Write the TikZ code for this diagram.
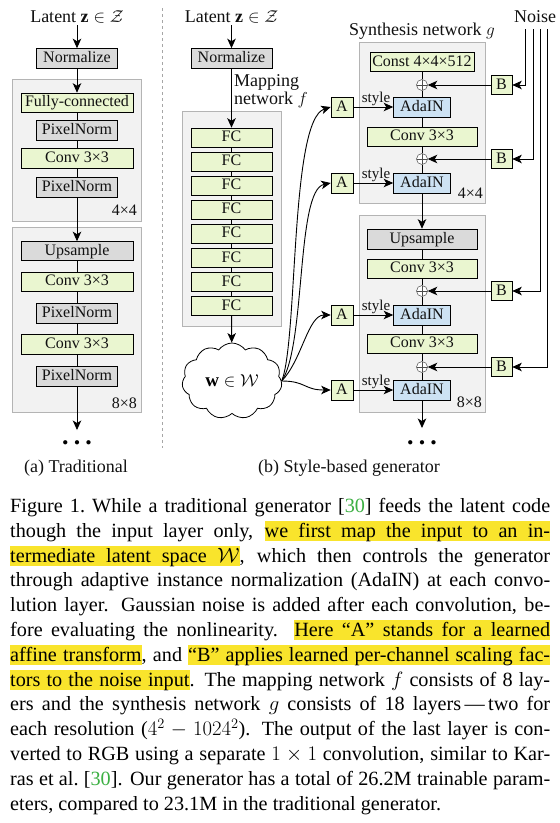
\documentclass[tikz,border=0pt]{standalone}
\usepackage{amsmath,amssymb}
\usepackage{fontspec}
\setmainfont{Liberation Serif}
\usepackage{xcolor}
\definecolor{sgink}{HTML}{111111}
\definecolor{sggray}{HTML}{DADADA}
\definecolor{sggreen}{HTML}{EAF6D0}
\definecolor{sgblue}{HTML}{CDE2F3}
\definecolor{sgpanel}{HTML}{F2F2F2}
\definecolor{sgrule}{HTML}{B4B4B4}
\definecolor{sghl}{HTML}{F9E42C}
\definecolor{sgcite}{HTML}{3CB043}
\usetikzlibrary{arrows.meta,shapes.symbols}
\newcommand{\sgboxfont}{\fontsize{16}{18}\selectfont}
\newcommand{\sglblfont}{\fontsize{18}{18}\selectfont}
\newcommand{\sgstylefont}{\fontsize{15}{16}\selectfont}
\newcommand{\sgcapfont}{\fontsize{20.2}{24.8}\selectfont}
\newcommand{\sgcite}{[\textcolor{sgcite}{30}]}
% highlighted words, the spaces between them stay stretchable
\newcommand{\sgword}[1]{\setbox0=\hbox{#1}%
  {\color{sghl}\vrule height 16pt depth 4pt width \wd0}\kern-\wd0\box0}
\newcommand{\sghlspace}{{\color{sghl}\leaders\vrule height 16pt depth 4pt
  \hskip\fontdimen2\font plus\fontdimen3\font minus\fontdimen4\font}}
\def\sghl#1{\leavevmode\sghlgo#1 \sgend}
\def\sghlgo#1 #2\sgend{\sgword{#1}%
  \if\relax\detokenize{#2}\relax\else\sghlspace\sghlgo#2\sgend\fi}
\tikzset{
  sgbox/.style   ={rectangle, draw=black, line width=0.6pt, inner sep=0pt,
                   minimum height=19pt, text height=11pt, text depth=3pt,
                   font=\sgboxfont, text=sgink},
  sgconv/.style  ={sgbox, fill=sggreen},
  sgnorm/.style  ={sgbox, fill=sggray, minimum width=81pt, minimum height=20pt},
  sgada/.style   ={sgbox, fill=sgblue, minimum width=57pt, minimum height=20pt},
  sgaff/.style   ={sgbox, fill=sggreen, minimum width=22pt, minimum height=20pt},
  sgblock/.style ={rectangle, draw=sgrule, fill=sgpanel, line width=0.6pt, inner sep=0pt},
  sgplus/.style  ={circle, draw=black!70, fill=white, line width=0.5pt,
                   minimum size=11pt, inner sep=0pt,
                   path picture={\draw[black!70, line width=0.5pt]
                     (path picture bounding box.north) -- (path picture bounding box.south)
                     (path picture bounding box.west) -- (path picture bounding box.east);}},
  sgcloud/.style ={cloud, cloud puffs=11, cloud puff arc=110, cloud ignores aspect,
                   draw=black, line width=0.8pt, fill=white, minimum width=100pt,
                   minimum height=76pt, inner sep=0pt, font=\fontsize{19}{20}\selectfont},
  sgarrow/.style ={-{Stealth[length=9.5pt,width=8.5pt,inset=2.5pt]}, line width=0.9pt, draw=black},
  sgline/.style  ={line width=0.6pt, draw=black},
  sglbl/.style   ={font=\sglblfont, text=sgink, inner sep=2pt},
  sgres/.style   ={font=\sgboxfont, anchor=base east, inner sep=0pt, text=sgink},
  sgstyle/.style ={font=\sgstylefont, above, inner sep=1pt, text=sgink},
  sgdots/.style  ={font=\fontsize{11}{12}\selectfont},
  sgsep/.style   ={draw=black!35, dashed, line width=0.6pt},
}

\begin{document}
\begin{tikzpicture}[x=1pt,y=-1pt]
  \useasboundingbox (0,0) rectangle (560,823);
  \fill[white] (0,0) rectangle (560,823);
  % (a) traditional generator
  \node[sglbl] (zA) at (77,17) {Latent~$\mathbf{z}\in\mathcal{Z}$};
  \node[sgnorm] (nA) at (77,58.5) {Normalize};
  \node[sgblock, minimum width=129pt, minimum height=142pt] (bA1) at (76.5,150) {};
  \node[sgblock, minimum width=129pt, minimum height=185pt] (bA2) at (76.5,319.5) {};
  \node[sgconv, minimum width=112pt] (fcA) at (77,102.5) {Fully-connected};
  \node[sgnorm] (pnA1) at (77,130) {PixelNorm};
  \node[sgconv, minimum width=112pt, minimum height=20pt] (cvA1) at (77,158) {Conv 3×3};
  \node[sgnorm] (pnA2) at (77,187) {PixelNorm};
  \node[sgres] (rA1) at (137,215) {4×4};
  \node[sgnorm, minimum width=112pt, minimum height=19pt] (upA) at (77,251) {Upsample};
  \node[sgconv, minimum width=112pt] (cvA2) at (77,281.5) {Conv 3×3};
  \node[sgnorm] (pnA3) at (77,313) {PixelNorm};
  \node[sgconv, minimum width=112pt, minimum height=20pt] (cvA3) at (77,344) {Conv 3×3};
  \node[sgnorm] (pnA4) at (77,376) {PixelNorm};
  \node[sgres] (rA2) at (137,408) {8×8};
  \coordinate (endA) at (77,430);
  \node[sgdots] (dotsA) at (77,443) {$\bullet\mkern6mu\bullet\mkern6mu\bullet$};
  \node[sglbl] (capA) at (76,468) {(a) Traditional};
  \draw[sgarrow] (zA) -- (nA);
  \draw[sgarrow] (nA) -- (fcA);
  \draw[sgline] (fcA) -- (pnA1) -- (cvA1) -- (pnA2);
  \draw[sgarrow] (pnA2) -- (upA);
  \draw[sgline] (upA) -- (cvA2) -- (pnA3) -- (cvA3) -- (pnA4);
  \draw[sgarrow] (pnA4) -- (endA);

  \draw[sgsep] (162,8) -- (162,448);

  % (b) style-based generator: mapping network
  \node[sglbl] (zB) at (231.5,17) {Latent~$\mathbf{z}\in\mathcal{Z}$};
  \node[sgnorm] (nB) at (231.5,58.5) {Normalize};
  \node[sglbl, anchor=north west, align=left, inner sep=0pt] (mapl) at (234,74)
    {Mapping\\network $f$};
  \node[sgblock, minimum width=99pt, minimum height=215pt] (bM) at (231.5,218.5) {};
  \foreach \i in {1,...,8}
    \node[sgconv, minimum width=81pt] (fc\i) at (231.5,{113.4+24.1*\i}) {FC};
  \foreach \i/\j in {1/2,2/3,3/4,4/5,5/6,6/7,7/8}
    \draw[sgline] (fc\i) -- (fc\j);
  \node[sgcloud] (w) at (232,381) {$\mathbf{w}\in\mathcal{W}$};
  \draw[sgarrow] (zB) -- (nB);
  \draw[sgarrow] (nB) -- (fc1);
  \draw[sgarrow] (fc8) -- (w);

  % synthesis network
  \node[sglbl] (synl) at (422,31) {Synthesis network $g$};
  \node[sgblock, minimum width=126pt, minimum height=161pt] (bS1) at (422,122.5) {};
  \node[sgblock, minimum width=126pt, minimum height=197pt] (bS2) at (422,313.5) {};
  \node[sgconv, minimum width=104pt] (cst) at (422,62) {Const 4×4×512};
  \node[sgplus] (p1) at (422,85) {};
  \node[sgada] (ad1) at (422,107) {AdaIN};
  \node[sgconv, minimum width=110pt] (cvS1) at (422,136.5) {Conv 3×3};
  \node[sgplus] (p2) at (422,159) {};
  \node[sgada] (ad2) at (422,183) {AdaIN};
  \node[sgres] (rS1) at (483,198) {4×4};
  \node[sgnorm, minimum width=110pt] (upS) at (422,239) {Upsample};
  \node[sgconv, minimum width=110pt] (cvS2) at (422,268.5) {Conv 3×3};
  \node[sgplus] (p3) at (422,291) {};
  \node[sgada] (ad3) at (422,315) {AdaIN};
  \node[sgconv, minimum width=110pt] (cvS3) at (422,343.5) {Conv 3×3};
  \node[sgplus] (p4) at (422,367) {};
  \node[sgada] (ad4) at (422,390) {AdaIN};
  \node[sgres] (rS2) at (482,407) {8×8};
  \coordinate (endB) at (422,428);
  \node[sgdots] (dotsB) at (422,443) {$\bullet\mkern6mu\bullet\mkern6mu\bullet$};
  \node[sglbl] (capB) at (349,468) {(b) Style-based generator};
  \draw[sgline] (cst) -- (p1) -- (ad1) -- (cvS1) -- (p2) -- (ad2);
  \draw[sgarrow] (ad2) -- (upS);
  \draw[sgline] (upS) -- (cvS2) -- (p3) -- (ad3) -- (cvS3) -- (p4) -- (ad4);
  \draw[sgarrow] (ad4) -- (endB);

  % styles A
  \foreach \n/\y in {1/107,2/183,3/315,4/390}
    \node[sgaff] (a\n) at (342,\y) {A};
  \draw[sgarrow] (w.east) .. controls (298,340) and (290,120) .. (a1.west);
  \draw[sgarrow] (w.east) .. controls (306,345) and (296,190) .. (a2.west);
  \draw[sgarrow] (w.east) .. controls (302,360) and (308,315) .. (a3.west);
  \draw[sgarrow] (w.east) .. controls (306,381) and (304,390) .. (a4.west);
  \foreach \n in {1,...,4}
    \draw[sgarrow] (a\n) -- node[sgstyle, pos=0.57] {style} (ad\n);

  % noise B
  \node[sglbl] (noise) at (535,17) {Noise};
  \foreach \n/\y in {1/85,2/159,3/291,4/367}
    \node[sgaff, minimum width=21pt, minimum height=19pt] (b\n) at (501.5,\y) {B};
  \foreach \n/\x in {1/525,2/533,3/540,4/547}{
    \coordinate (nz\n) at (\x,29);
    \draw[sgarrow] (nz\n) |- (b\n);
    \draw[sgarrow] (b\n) -- (p\n);
  }

  % caption
  \node[anchor=north west, inner sep=0pt, text width=540pt, align=justify,
        font=\sgcapfont, text=black] (cap) at (10,498) {%
Figure 1.\ While a traditional generator \sgcite{} feeds the latent code\linebreak
though the input layer only, \sghl{we first map the input to an in-}\linebreak
\sghl{termediate latent space {$\mathcal{W}$}}, which then controls the generator\linebreak
through adaptive instance normalization (AdaIN) at each convo-\linebreak
lution layer. Gaussian noise is added after each convolution, be-\linebreak
fore evaluating the nonlinearity. \sghl{Here “A” stands for a learned}\linebreak
\sghl{affine transform}, and \sghl{“B” applies learned per-channel scaling fac-}\linebreak
\sghl{tors to the noise input}. The mapping network $f$ consists of 8 lay-\linebreak
ers and the synthesis network $g$ consists of 18 layers\,---\,two for\linebreak
each resolution ($4^2-1024^2$). The output of the last layer is con-\linebreak
verted to RGB using a separate $1\times1$ convolution, similar to Kar-\linebreak
ras et al.\ \sgcite. Our generator has a total of 26.2M trainable param-\linebreak
eters, compared to 23.1M in the traditional generator.};
\end{tikzpicture}
\end{document}
